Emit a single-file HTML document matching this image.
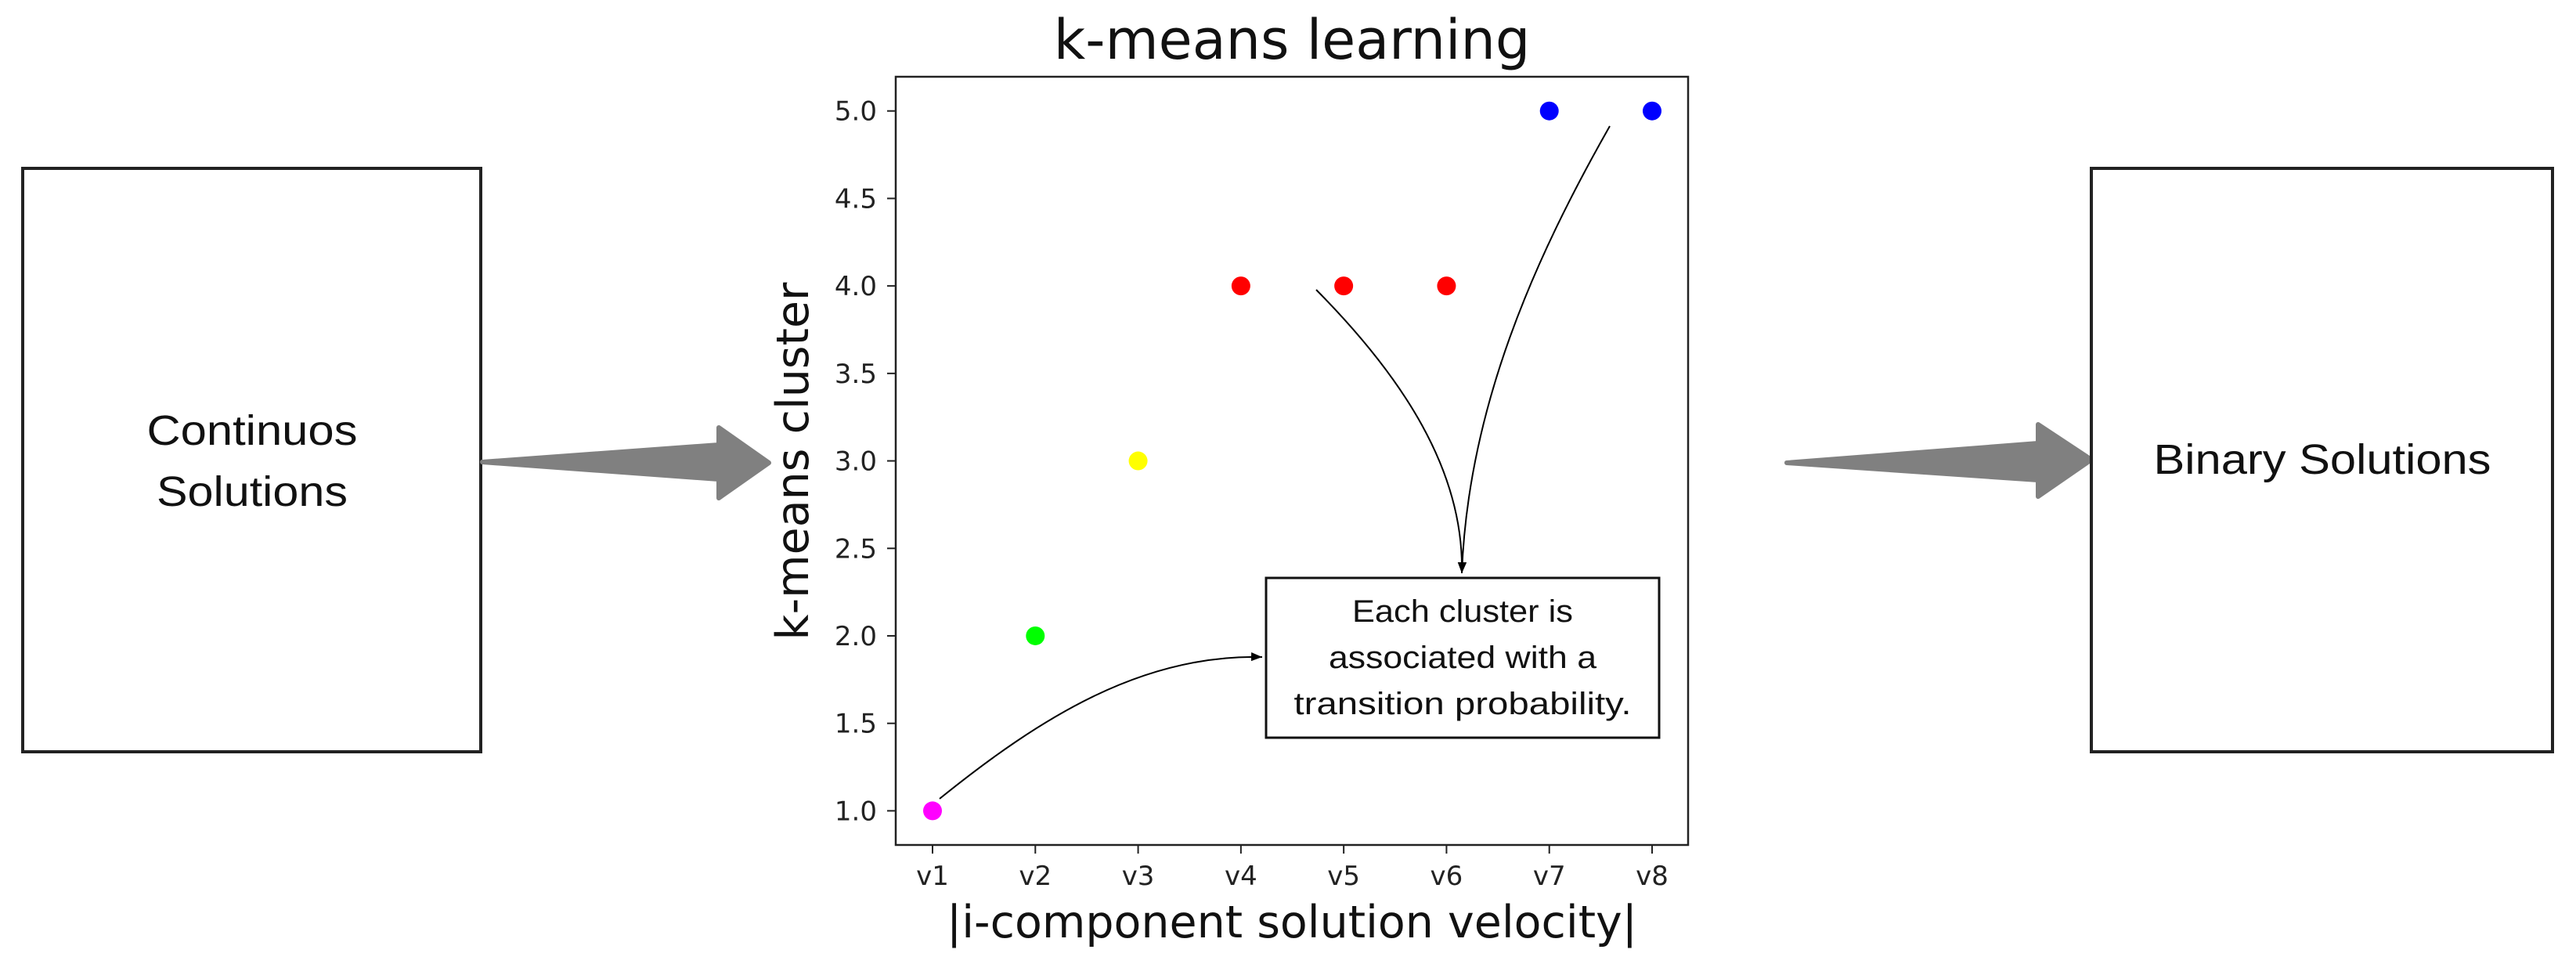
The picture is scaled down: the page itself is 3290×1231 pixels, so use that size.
<!DOCTYPE html>
<html><head><meta charset="utf-8"><style>
html,body{margin:0;padding:0;background:#fff;}
svg{display:block;}
</style></head><body>
<svg id="fig" width="3290" height="1231" viewBox="0 0 3290 1231" xmlns="http://www.w3.org/2000/svg">
<defs>
<marker id="ah" viewBox="0 0 10 10" refX="10" refY="5" markerWidth="14" markerHeight="14" markerUnits="userSpaceOnUse" orient="auto"><path d="M0,1 L10,5 L0,9 z" fill="#000"/></marker>
</defs>
<rect width="3290" height="1231" fill="#fff"/>
<g>
<rect x="29" y="215" width="585" height="745" fill="#fff" stroke="#222" stroke-width="4"/>
<text x="322" y="568" font-family="Liberation Sans, sans-serif" font-size="54" text-anchor="middle" textLength="269" lengthAdjust="spacingAndGlyphs" fill="#111">Continuos</text>
<text x="322" y="646" font-family="Liberation Sans, sans-serif" font-size="54" text-anchor="middle" textLength="244" lengthAdjust="spacingAndGlyphs" fill="#111">Solutions</text>
</g>
<path d="M616,590 L918,568 L918,546 L982,591 L918,636 L918,612 Z" fill="#808080" stroke="#808080" stroke-width="6" stroke-linejoin="round"/>
<path d="M2282,591 L2603,566 L2603,542 L2671,587 L2603,634 L2603,613 Z" fill="#808080" stroke="#808080" stroke-width="6" stroke-linejoin="round"/>
<g>
<rect x="2671" y="215" width="589" height="745" fill="#fff" stroke="#222" stroke-width="4"/>
<text x="2966" y="605" font-family="Liberation Sans, sans-serif" font-size="54" text-anchor="middle" textLength="431" lengthAdjust="spacingAndGlyphs" fill="#111">Binary Solutions</text>
</g>
<g id="chart"></g>
</svg>
<script>
const categories = ["v1","v2","v3","v4","v5","v6","v7","v8"];
const clusterValues = [1, 2, 3, 4, 4, 4, 5, 5];
const pointColors = ["#ff00ff","#00ff00","#ffff00","#ff0000","#ff0000","#ff0000","#0000ff","#0000ff"];
const yTicks = [1.0, 1.5, 2.0, 2.5, 3.0, 3.5, 4.0, 4.5, 5.0];
const yTickLabels = ["1.0","1.5","2.0","2.5","3.0","3.5","4.0","4.5","5.0"];

const NS = "http://www.w3.org/2000/svg";
const g = document.getElementById("chart");
const L=1144, R=2156, T=98, B=1079;
const xS = i => 1191 + i*(2110-1191)/7;
const yS = v => 1035.4 - (v-1)*(1035.4-141.7)/4;
function mk(tag, attrs, parent){const e=document.createElementNS(NS,tag);for(const k in attrs)e.setAttribute(k,attrs[k]);(parent||g).appendChild(e);return e;}

let frame = mk("rect",{x:L,y:T,width:R-L,height:B-T,fill:"none",stroke:"#222","stroke-width":2.5});



let title = mk("text",{x:1650,y:75,"font-family":"DejaVu Sans, sans-serif","font-size":70,"text-anchor":"middle",fill:"#111"});
title.textContent="k-means learning";



yTicks.forEach((v,i)=>{
  const y=yS(v);
  const t=mk("line",{x1:L-11,x2:L,y1:y,y2:y,stroke:"#222","stroke-width":2});
  
  
  const lb=mk("text",{x:L-24,y:y+12,"font-family":"DejaVu Sans, sans-serif","font-size":34,"text-anchor":"end",fill:"#222"});
  lb.textContent=yTickLabels[i];
  
  
});
categories.forEach((c,i)=>{
  const x=xS(i);
  const t=mk("line",{x1:x,x2:x,y1:B,y2:B+11,stroke:"#222","stroke-width":2});
  
  
  const lb=mk("text",{x:x,y:1130,"font-family":"DejaVu Sans, sans-serif","font-size":34,"text-anchor":"middle",fill:"#222"});
  lb.textContent=c;
  
  
});
let yl = mk("text",{x:0,y:0,transform:"translate(1032,589) rotate(-90)","font-family":"DejaVu Sans, sans-serif","font-size":57,"text-anchor":"middle",fill:"#111"});
yl.textContent="k-means cluster";


let xl = mk("text",{x:1650,y:1197,"font-family":"DejaVu Sans, sans-serif","font-size":57,"text-anchor":"middle",fill:"#111"});
xl.textContent="|i-component solution velocity|";



clusterValues.forEach((v,i)=>{
  const p=mk("circle",{cx:xS(i),cy:yS(v),r:12,fill:pointColors[i]});
  
  
});

let box = mk("rect",{x:1617,y:738,width:502,height:204,fill:"#fff",stroke:"#111","stroke-width":3});


[["Each cluster is",794,282],["associated with a",853,342],["transition probability.",912,431]].forEach(a=>{
  const t=mk("text",{x:1868,y:a[1],"font-family":"Liberation Sans, sans-serif","font-size":40,"text-anchor":"middle",textLength:a[2],lengthAdjust:"spacingAndGlyphs",fill:"#111"});
  t.textContent=a[0];
  
  
});
[["M1200,1020 C1330,915 1460,835 1612,839","annotation-arrow-pink"],
 ["M1681,370 C1790,480 1870,600 1867,732","annotation-arrow-red"],
 ["M2056,161 C1960,330 1875,520 1867,732","annotation-arrow-blue"]].forEach(a=>{
  const p=mk("path",{d:a[0],fill:"none",stroke:"#000","stroke-width":2,"marker-end":"url(#ah)"});
  
  
});
</script>
</body></html>
